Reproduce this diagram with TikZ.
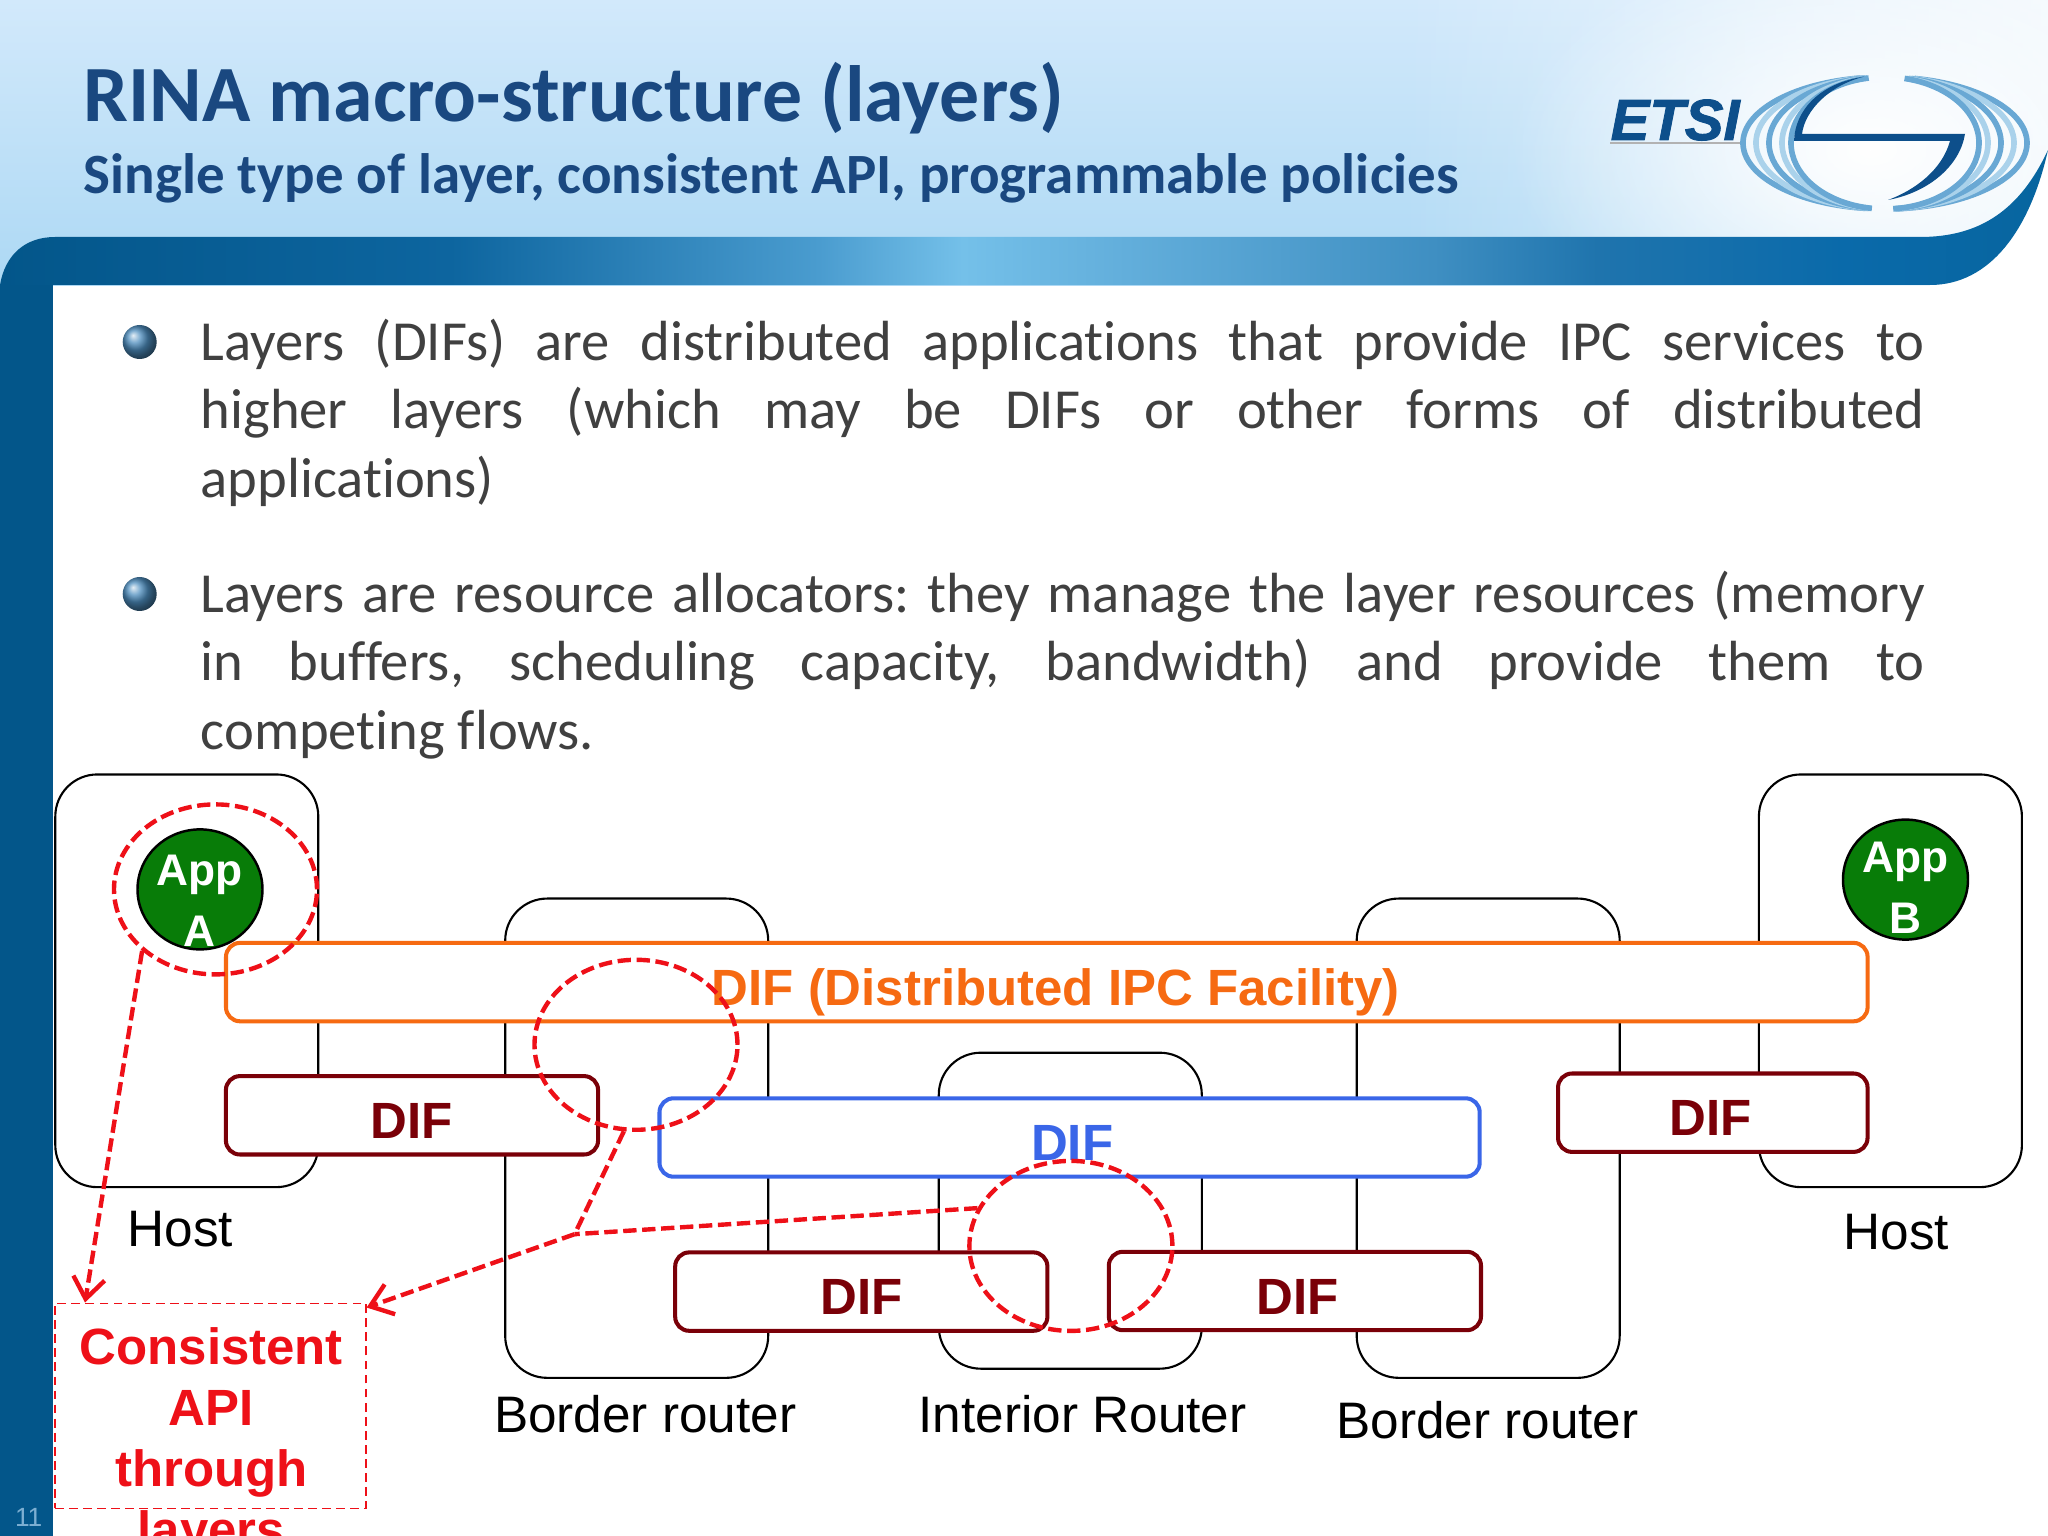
\documentclass[tikz,border=0pt]{standalone}
\usepackage{fontspec}
\setmainfont{Carlito}[Ligatures=NoCommon]
\newfontfamily\labelfont{Liberation Sans}
\newfontfamily\etsifont{Liberation Sans}[BoldItalicFeatures={FakeBold=1.6}]
\usetikzlibrary{shapes, arrows.meta, positioning, calc, fadings}
\definecolor{slideblue}{RGB}{3, 86, 138}
\definecolor{bandone}{RGB}{13, 101, 159}
\definecolor{bandtwo}{RGB}{74, 156, 207}
\definecolor{bandtop}{RGB}{116, 192, 233}
\definecolor{bandthree}{RGB}{98, 174, 219}
\definecolor{bandfour}{RGB}{63, 143, 194}
\definecolor{bandfive}{RGB}{31, 116, 173}
\definecolor{bandsix}{RGB}{10, 106, 170}
\definecolor{bandend}{RGB}{7, 101, 159}
\definecolor{skytop}{RGB}{210, 233, 251}
\definecolor{skylow}{RGB}{172, 216, 244}
\definecolor{titleblue}{RGB}{26, 72, 128}
\definecolor{bodygrey}{RGB}{64, 64, 64}
\definecolor{pagenum}{RGB}{125, 175, 210}
\definecolor{etsiblue}{RGB}{13, 79, 139}
\definecolor{arcpale}{RGB}{170, 210, 235}
\definecolor{arcmid}{RGB}{105, 168, 212}
\definecolor{difred}{RGB}{122, 0, 8}
\definecolor{diforange}{RGB}{246, 106, 18}
\definecolor{difblue}{RGB}{58, 102, 232}
\definecolor{appgreen}{RGB}{8, 124, 8}
\definecolor{apired}{RGB}{238, 16, 24}
\pgfdeclarehorizontalshading{bandshade}{100bp}{
  color(0bp)=(slideblue); color(25bp)=(slideblue); color(36bp)=(bandone);
  color(45bp)=(bandtwo); color(48.5bp)=(bandtop); color(52.5bp)=(bandthree);
  color(60bp)=(bandfour); color(64bp)=(bandfive); color(70bp)=(bandsix);
  color(75bp)=(bandend); color(100bp)=(bandend)}
\tikzfading[name=logoglow, inner color=transparent!0, outer color=transparent!100]
\tikzset{
  routerbox/.style={draw=black, fill=white, line width=0.6pt, rounded corners=0.42cm, minimum width=2.63cm},
  difbox/.style={draw=#1, fill=white, text=#1, line width=1.15pt, rounded corners=0.14cm, minimum height=0.784cm,
    inner sep=0pt, text height=0.46cm, text depth=0pt, font=\labelfont\bfseries\fontsize{14.5}{17}\selectfont},
  appnode/.style={ellipse, draw=black, fill=appgreen, line width=0.7pt, minimum width=1.25cm, minimum height=1.2cm, inner sep=0pt},
  apptext/.style={inner sep=0pt, text=white, align=center, font=\labelfont\bfseries\fontsize{12.6}{17.4}\selectfont},
  apiring/.style={ellipse, draw=apired, line width=1.25pt, dash pattern=on 3.8pt off 1.6pt, minimum width=2.03cm, minimum height=1.7cm, inner sep=0pt},
  apilink/.style={draw=apired, line width=1.25pt, dash pattern=on 3.8pt off 1.6pt},
  boxlabel/.style={inner sep=0pt, font=\labelfont\fontsize{14.6}{17}\selectfont},
  bodytext/.style={anchor=north west, inner sep=0pt, text width=17.24cm, align=justify, text=bodygrey, font=\frenchspacing\fontsize{16.1}{19.5}\selectfont},
  globe/.style={circle, shading=ball, ball color=arcmid!70!etsiblue, minimum size=0.34cm, inner sep=0pt}
}
\begin{document}
\begin{tikzpicture}
  \useasboundingbox (0,0) rectangle (20.48,-15.36);
  \clip (0,0) rectangle (20.48,-15.36);
  % header
  \shade[top color=skytop, bottom color=skylow] (0,0) rectangle (20.48,-2.9);
  \fill[white, path fading=west, fill opacity=0.75] (14,0) rectangle (20.48,-2.9);
  \fill[white, path fading=logoglow] (18.7,-1.5) ellipse (3.6 and 2.2);
  \fill[white] (19.3,-2.85) .. controls (19.9,-2.85) and (20.3,-2.3) .. (20.48,-1.5) -- (20.48,-2.9) -- (19.3,-2.9) -- cycle;
  \path[shading=bandshade, shading angle=0]
    (0,-2.85) .. controls (0.05,-2.55) and (0.25,-2.37) .. (0.55,-2.37) -- (19.2,-2.37)
    .. controls (19.8,-2.37) and (20.2,-2.1) .. (20.48,-1.5)
    .. controls (20.3,-2.3) and (19.9,-2.85) .. (19.3,-2.85) -- cycle;
  \fill[white] (0.53,-2.86) rectangle (20.48,-15.36);
  \fill[slideblue] (0,-2.85) rectangle (0.53,-15.36);
  \node[anchor=base west, inner sep=0pt, text=titleblue, font=\bfseries\fontsize{22.7}{26}\selectfont] (title) at (0.83,-1.22) {RINA macro-structure (layers)};
  \node[anchor=base west, inner sep=0pt, text=titleblue, font=\bfseries\fontsize{16.2}{19}\selectfont] (subtitle) at (0.83,-1.94) {Single type of layer, consistent API, programmable policies};
  % logo
  \foreach \rx/\tone in {1.42/arcmid, 1.29/arcpale, 1.16/arcmid, 1.03/arcpale, 0.94/arcmid} {
    \draw[\tone, line width=1.6pt] (18.85,-1.43) ++(100:{\rx} and 0.66) arc[start angle=100, end angle=262, x radius=\rx, y radius=0.66];
    \draw[\tone, line width=1.6pt] (18.85,-1.43) ++(78:{\rx} and 0.66) arc[start angle=78, end angle=-85, x radius=\rx, y radius=0.66];
  }
  \fill[etsiblue] (18.64,-0.767) .. controls (18.3,-0.85) and (18.05,-1.1) .. (18.02,-1.34) -- (19.65,-1.34)
    .. controls (19.6,-1.65) and (19.3,-1.92) .. (18.88,-2.0)
    .. controls (19.15,-1.9) and (19.42,-1.7) .. (19.5,-1.41) -- (17.94,-1.41)
    .. controls (17.95,-1.1) and (18.2,-0.83) .. (18.64,-0.767);
  \node[anchor=base west, inner sep=0pt, text=etsiblue, font=\etsifont\bfseries\itshape\fontsize{16.5}{20}\selectfont] (etsi) at (16.1,-1.4) {ETSI};
  \draw[black!30, line width=0.5pt] ([yshift=-0.03cm]etsi.base west) -- ([yshift=-0.03cm]etsi.base east);
  % text
  \node[globe] (bulletone) at (1.397,-3.42) {};
  \node[globe] (bullettwo) at (1.397,-5.94) {};
  \node[bodytext] (paraone) at (2.0,-3.18) {Layers (DIFs) are distributed applications that provide IPC services to\linebreak higher layers (which may be DIFs or other forms of distributed\linebreak applications)};
  \node[bodytext] (paratwo) at (2.0,-5.70) {Layers are resource allocators: they manage the layer resources (memory\linebreak in buffers, scheduling capacity, bandwidth) and provide them to\linebreak competing flows.};
  \node[inner sep=0pt, text=pagenum, font=\labelfont\fontsize{7.5}{9}\selectfont] (pageno) at (0.287,-15.176) {11};
  % systems
  \node[routerbox, minimum height=4.127cm] (hosta) at (1.868,-9.808) {};
  \node[routerbox, minimum height=4.127cm] (hostb) at (18.904,-9.808) {};
  \node[routerbox, minimum height=4.793cm] (bordera) at (6.367,-11.382) {};
  \node[routerbox, minimum height=4.793cm] (borderb) at (14.882,-11.382) {};
  \node[routerbox, minimum height=3.16cm] (interior) at (10.703,-12.107) {};
  \node[appnode] (appa) at (2.0,-8.894) {};
  \node[apptext] (appatext) at (1.998,-9.005) {App\\A};
  \node[appnode] (appb) at (19.055,-8.796) {};
  \node[apptext] (appbtext) at (19.055,-8.874) {App\\B};
  % layers
  \node[difbox=diforange, minimum width=16.416cm] (dife) at (10.468,-9.821) {\hspace*{0.18cm}DIF (Distributed IPC Facility)};
  \node[difbox=difblue, minimum width=8.202cm] (difn) at (10.696,-11.375) {\hspace*{0.05cm}DIF};
  \node[difbox=difred, minimum width=3.722cm] (difa) at (4.120,-11.153) {DIF};
  \node[difbox=difred, minimum width=3.095cm] (difb) at (17.128,-11.127) {DIF\hspace*{0.05cm}};
  \node[difbox=difred, minimum width=3.722cm] (difc) at (8.613,-12.916) {DIF};
  \node[difbox=difred, minimum width=3.722cm] (difd) at (12.949,-12.910) {\hspace*{0.05cm}DIF};
  % labels
  \node[boxlabel] (hostlabela) at (1.802,-12.289) {Host};
  \node[boxlabel] (hostlabelb) at (18.963,-12.316) {Host};
  \node[boxlabel] (borderlabela) at (6.452,-14.145) {Border router};
  \node[boxlabel] (interiorlabel) at (10.827,-14.145) {Interior Router};
  \node[boxlabel] (borderlabelb) at (14.875,-14.197) {Border router};
  % API
  \node[draw=apired, line width=0.5pt, dash pattern=on 2.5pt off 1.5pt, minimum width=3.108cm, minimum height=2.05cm, inner sep=0pt] (apibox) at (2.103,-14.059) {};
  \node[inner sep=0pt, align=center, text=apired, font=\labelfont\bfseries\fontsize{14.5}{17.4}\selectfont] (apitext) at (2.113,-14.43) {Consistent\\API\\through\\layers};
  \node[apiring] (ringa) at (2.155,-8.894) {};
  \node[apiring] (ringb) at (6.36,-10.448) {};
  \node[apiring] (ringc) at (10.709,-12.459) {};
  \coordinate (kink) at (5.746,-12.342);
  \draw[apilink, -{Straight Barb[length=6pt, width=9pt]}] (ringa.220) -- ([xshift=0.31cm]apibox.north west);
  \draw[apilink] (ringb.262) -- (kink);
  \draw[apilink] (ringc.158) -- (kink);
  \draw[apilink, -{Straight Barb[length=6pt, width=9pt]}] (kink) -- ([yshift=-0.05cm]apibox.north east);
\end{tikzpicture}
\end{document}
